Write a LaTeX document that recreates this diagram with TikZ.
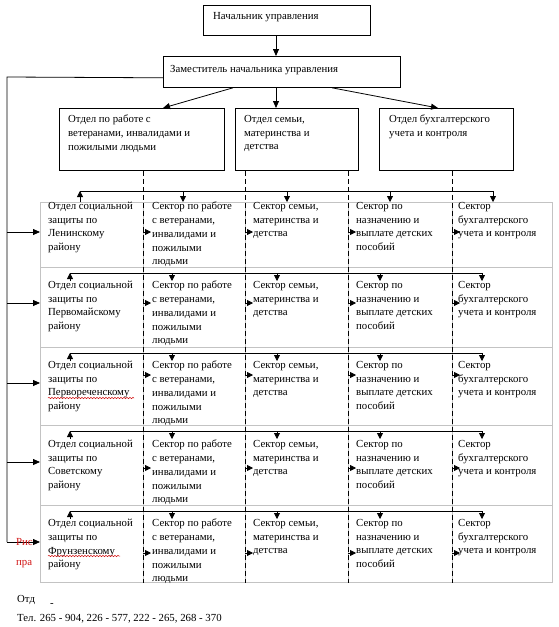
\documentclass[tikz,border=0pt]{standalone}
\usepackage{fontspec}
\setmainfont{Liberation Serif}
\usetikzlibrary{arrows.meta,decorations.pathmorphing}
\definecolor{gridgray}{RGB}{195,195,195}
\definecolor{errred}{RGB}{210,20,20}
\begin{document}
\begin{tikzpicture}[x=1pt,y=-1pt,
  txt/.style={font=\fontsize{10.8}{13.7}\selectfont, inner sep=0pt, align=left, anchor=north west},
  btxt/.style={font=\fontsize{10.8}{13.7}\selectfont, inner sep=0pt, anchor=base west},
  box/.style={draw, line width=0.8pt, inner sep=0pt, anchor=north west},
  arr/.style={-{Triangle[length=7pt,width=6pt]}, line width=0.8pt},
  sarr/.style={-{Triangle[length=6pt,width=6pt]}, line width=0.8pt},
  rowline/.style={line width=1pt},
  dashline/.style={dash pattern=on 5pt off 3pt, line width=0.8pt},
  gridline/.style={draw=gridgray, line width=1pt},
  redtxt/.style={btxt, text=errred},
  wavy/.style={draw=errred, line width=0.5pt, decorate, decoration={snake, amplitude=0.7pt, segment length=3pt}},
]
\useasboundingbox (0,0) rectangle (558,627);
\fill[white] (0,0) rectangle (558,627);

% ---------- top boxes ----------
\node[box, minimum width=167pt, minimum height=30pt] (chief) at (203,5) {};
\node[txt] (chiefT) at (213,12) {Начальник управления};
\node[box, minimum width=237pt, minimum height=31pt] (deputy) at (163,56) {};
\node[txt] (deputyT) at (170,65) {Заместитель начальника управления};

\node[box, minimum width=165pt, minimum height=62pt] (dep1) at (59,108) {};
\node[txt] (dep1T) at (68,115) {Отдел по работе с\\ветеранами, инвалидами и\\пожилыми людьми};
\node[box, minimum width=123pt, minimum height=62pt] (dep2) at (235,108) {};
\node[txt] (dep2T) at (244,115) {Отдел семьи,\\материнства и\\детства};
\node[box, minimum width=134pt, minimum height=62pt] (dep3) at (379,108) {};
\node[txt] (dep3T) at (389,115) {Отдел бухгалтерского\\учета и контроля};

% ---------- top connectors ----------
\draw[arr] ([xshift=73pt]chief.south west) -- ([xshift=113pt]deputy.north west);
\draw[arr] ([xshift=70pt]deputy.south west) -- ([xshift=104pt]dep1.north west);
\draw[arr] ([xshift=113pt]deputy.south west) -- ([xshift=41pt]dep2.north west);
\draw[arr] ([xshift=169pt]deputy.south west) -- ([xshift=59pt]dep3.north west);

% ---------- grid ----------
\draw[gridline] (40,202) rectangle (552,582);
\foreach \y in {267,347,425,505} \draw[gridline] (40,\y) -- (552,\y);
\foreach \x in {143,245,348,452} \draw[gridline] (\x,202) -- (\x,582);

% ---------- dashed lines from departments ----------
\draw[dashline] ([xshift=84pt]dep1.south west) -- ++(0,412);
\draw[dashline] ([xshift=10pt]dep2.south west) -- ++(0,412);
\draw[dashline] ([xshift=113pt]dep2.south west) -- ++(0,412);
\draw[dashline] ([xshift=73pt]dep3.south west) -- ++(0,412);

% ---------- left bus ----------
\coordinate (busTop) at (7,77);
\coordinate (busBot) at (7,542);
\draw[line width=0.8pt] ([yshift=10pt]deputy.south west) -- (busTop) -- (busBot);
\foreach \y in {232,303,383,462,542} \draw[arr] (7,\y) -- (40,\y);

% ---------- row distribution lines ----------
\draw[rowline] (80,191) -- (493,191);
\draw[sarr] (80,202) -- (80,191);
\foreach \x in {183,287,390,493} \draw[sarr] (\x,191) -- (\x,202);
\foreach \t in {267,347,425,505}{
  \draw[rowline] (70,\t+6) -- (482,\t+6);
  \draw[sarr] (70,\t+14) -- (70,\t+6);
  \foreach \x in {172,277,380,482} \draw[sarr] (\x,\t+6) -- (\x,\t+14);
}

% ---------- small arrows on dashed lines ----------
\foreach \y in {232,303,375,468,553}
  \foreach \x in {143,245,348,452} \draw[sarr] (\x,\y) -- ({\x+8},\y);

% ---------- cell texts ----------
\foreach \r/\ty/\dist in {1/202/Ленинскому, 2/281/Первомайскому, 3/361/Первореченскому, 4/440/Советскому, 5/519/Фрунзенскому}{
  \node[txt] (d\r) at (48,\ty) {Отдел социальной\\защиты по\\\dist\\району};
  \node[txt] (v\r) at (152,\ty) {Сектор по работе\\с ветеранами,\\инвалидами и\\пожилыми\\людьми};
  \node[txt] (f\r) at (253,\ty) {Сектор семьи,\\материнства и\\детства};
  \node[txt] (p\r) at (356,\ty) {Сектор по\\назначению и\\выплате детских\\пособий};
  \node[txt] (b\r) at (458,\ty) {Сектор\\бухгалтерского\\учета и контроля};
}

% spell-check underlines
\draw[wavy] (48,398) -- (134,398);
\draw[wavy] (48,556) -- (120,556);

% ---------- stray texts ----------
\node[redtxt] (ris) at (16,545) {Рис};
\node[redtxt] (pra) at (16,565) {пра};
\node[btxt] (otd) at (17,602) {Отд};
\node[btxt] (dash) at (50,606) {-};
\node[btxt] (tel) at (17,621) {Тел. 265 - 904, 226 - 577, 222 - 265, 268 - 370};
\end{tikzpicture}
\end{document}
